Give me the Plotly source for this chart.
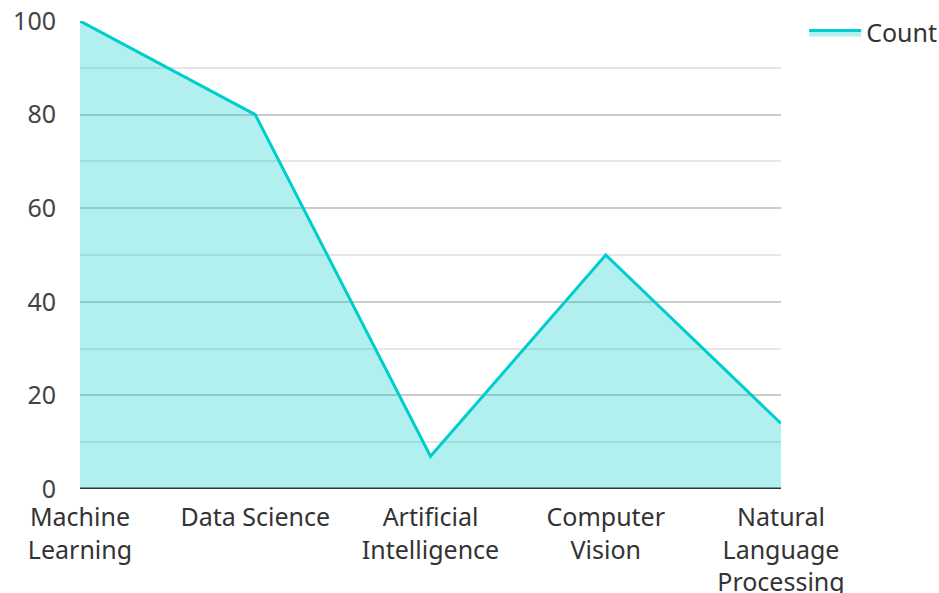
import plotly.graph_objects as go

categories = ["Machine<br>Learning", "Data Science", "Artificial<br>Intelligence", "Computer<br>Vision", "Natural<br>Language<br>Processing"]
counts = [100, 80, 7, 50, 14]
series_name = "Count"

fig = go.Figure()
fig.add_trace(go.Scatter(
    x=list(range(len(categories))), y=counts, name=series_name,
    mode="lines", fill="tozeroy",
    line=dict(color="rgb(0,206,206)", width=3),
    fillcolor="rgba(0,206,206,0.3)",
))

fig.update_layout(
    width=939, height=593,
    margin=dict(l=80, r=158, t=21, b=104, autoexpand=False),
    paper_bgcolor="white", plot_bgcolor="white",
    font=dict(family="Noto Sans", size=25, color="#444"),
    showlegend=True,
    legend=dict(x=1.033, y=1.024, xanchor="left", yanchor="top", itemwidth=52,
                font=dict(size=25, color="#333"), bgcolor="rgba(0,0,0,0)"),
    xaxis=dict(
        range=[0, len(categories) - 1], automargin=False,
        tickmode="array", tickvals=list(range(len(categories))), ticktext=categories,
        showgrid=False, zeroline=False, showline=False, ticks="",
        ticklabelstandoff=11, ticklabeloverflow="allow",
        tickfont=dict(color="#333"),
    ),
    yaxis=dict(
        range=[0, 100], dtick=20, showgrid=True, gridcolor="#cccccc", gridwidth=1.5,
        zeroline=False, showline=False, ticks="", automargin=False,
        ticklabelstandoff=23, ticklabeloverflow="allow",
        minor=dict(dtick=10, showgrid=True, gridcolor="#e6e6e6", gridwidth=1.5),
        tickfont=dict(color="#444"),
    ),
)
fig.add_shape(type="line", xref="paper", yref="y", x0=0, x1=1, y0=0, y1=0,
              line=dict(color="#333", width=3), layer="above")

fig.write_html("out.html", config={"displayModeBar": False},
               post_script="document.body.style.margin='0';document.body.style.overflow='hidden';")
